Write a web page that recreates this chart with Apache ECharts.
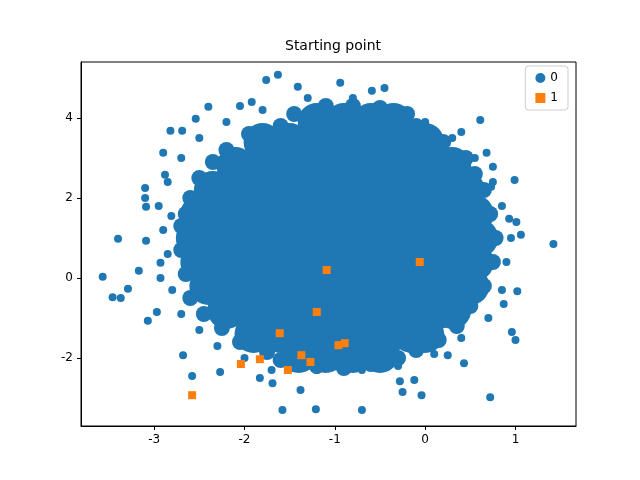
<!DOCTYPE html><html><head><meta charset="utf-8"><script src="https://cdn.jsdelivr.net/npm/echarts@6/dist/echarts.min.js"></script></head><body style="margin:0"><div id="c" style="width:640px;height:480px"></div><script>
const coreRows = [
 [3.9, [-1.2,-0.9,-0.6,-0.35]],
 [3.4, [-1.8,-1.5,-1.2,-0.9,-0.6,-0.3,0]],
 [2.8, [-2.1,-1.8,-1.5,-1.2,-0.9,-0.6,-0.3,0,0.3]],
 [2.2, [-2.35,-2.05,-1.75,-1.45,-1.15,-0.85,-0.55,-0.25,0.05,0.3,0.45]],
 [1.6, [-2.5,-2.2,-1.9,-1.6,-1.3,-1.0,-0.7,-0.4,-0.1,0.2,0.4,0.55]],
 [1.0, [-2.55,-2.25,-1.95,-1.65,-1.35,-1.05,-0.75,-0.45,-0.15,0.15,0.4,0.6]],
 [0.4, [-2.5,-2.2,-1.9,-1.6,-1.3,-1.0,-0.7,-0.4,-0.1,0.2,0.4,0.55]],
 [-0.2,[-2.4,-2.1,-1.8,-1.5,-1.2,-0.9,-0.6,-0.3,0,0.3,0.5]],
 [-0.8,[-2.2,-1.9,-1.6,-1.3,-1.0,-0.7,-0.4,-0.1,0.15,0.3]],
 [-1.4,[-1.9,-1.6,-1.3,-1.0,-0.7,-0.4,-0.15,0]],
 [-1.9,[-1.4,-1.1,-0.8,-0.5]]
];
const edge0 = [[-2.7,1.3],[-2.7,0.7],[-2.65,0.1],[-2.6,-0.5],[-2.45,-0.9],[-2.25,-1.25],[-2.05,-1.6],[-1.75,-1.85],[-1.6,-2.05],[-0.3,-2.0],[-0.1,-1.8],[0.15,-1.55],[0.35,-1.2],[0.5,-0.7],[0.65,-0.2],[0.75,0.4],[0.78,1.0],[0.72,1.6],[0.65,2.2],[0.55,2.6],[0.45,3.0],[0.2,3.4],[-0.1,3.8],[-0.2,4.1],[-0.5,4.25],[-0.8,4.3],[-1.1,4.3],[-1.45,4.1],[-1.6,3.8],[-1.95,3.6],[-2.2,3.2],[-2.35,2.9],[-2.5,2.5],[-2.6,2.0],[-2.65,1.6],[-1.2,-2.2],[-0.9,-2.25],[-0.6,-2.15],[-1.45,-2.15]];
const outer0 = [[-3.57,0.03],[-3.46,-0.48],[-3.37,-0.5],[-3.4,0.98],[-3.29,-0.27],[-3.17,0.18],[-3.1,2.25],[-3.1,2.0],[-3.09,1.78],[-3.09,0.93],[-3.07,-1.07],[-2.97,-0.85],[-2.9,3.13],[-2.82,3.68],[-2.88,2.58],[-2.81,1.55],[-2.93,0.38],[-2.93,0],[-2.68,-1.93],[-2.58,-2.45],[-2.69,3.68],[-2.54,3.98],[-2.4,4.28],[-2.27,-2.35],[-2.05,4.3],[-1.92,4.4],[-1.76,4.95],[-1.63,5.08],[-1.83,-2.5],[-1.69,-2.63],[-1.58,-3.3],[-1.38,-2.8],[-1.21,-3.28],[-1.41,4.78],[-0.94,4.88],[-0.7,-3.3],[-0.59,4.68],[-0.45,4.75],[-0.28,-2.58],[-0.25,-2.85],[-0.12,-2.55],[0.4,3.65],[0.61,3.95],[0.68,3.13],[0.75,2.78],[0.73,2.28],[0.99,2.45],[0.93,1.48],[1.01,1.4],[1.06,1.08],[1.42,0.85],[1.02,-0.33],[0.87,-0.65],[0.96,-1.35],[1.0,-1.55],[0.72,-2.98],[0.43,-2.13],[0.25,-1.93],[-0.04,-2.93],[0,-1.75],
[-2.9,1.2],[-2.85,0.6],[-2.8,-0.3],[-2.7,-0.9],[-2.5,-1.3],[-2.3,-1.7],[-2.0,-2.0],[-1.7,-2.3],[-1.2,-2.3],[-0.7,-2.3],[-0.3,-2.2],[0.1,-1.9],[0.4,-1.5],[0.7,-1.0],[0.85,-0.3],[0.9,0.4],[0.95,1.0],[0.85,1.8],[0.75,2.4],[0.55,3.0],[0.3,3.5],[0,3.9],[-0.3,4.2],[-0.8,4.5],[-1.3,4.5],[-1.8,4.2],[-2.2,3.9],[-2.5,3.5],[-2.7,3.0],[-2.85,2.4],[-2.95,1.8]];
const series1 = [[-1.09,0.2],[-0.06,0.4],[-1.2,-0.85],[-1.61,-1.38],[-1.83,-2.03],[-1.52,-2.3],[-1.37,-1.93],[-1.27,-2.1],[-0.96,-1.68],[-0.89,-1.63],[-2.04,-2.15],[-2.58,-2.93]];
const xTicks=[-3,-2,-1,0,1], yTicks=[-2,0,2,4];
const core=[]; coreRows.forEach(r=>r[1].forEach(x=>core.push([x,r[0]])));
const ax=(min,max,t)=>({type:'value',min,max,splitLine:{show:false},axisLine:{onZero:false,lineStyle:{color:'#000'}},
 axisTick:{customValues:t,length:4,inside:false,lineStyle:{color:'#000'}},axisLabel:{customValues:t,color:'#000',fontSize:12,fontFamily:'DejaVu Sans'}});
const blue={color:'#1f77b4',opacity:1};
const c=echarts.init(document.getElementById('c'));
c.setOption({animation:false,
 title:{text:'Starting point',left:328,textAlign:'center',top:34,textStyle:{fontWeight:'normal',fontSize:14,color:'#000',fontFamily:'DejaVu Sans'}},
 grid:{left:81,right:64,top:62,bottom:54,show:true,borderColor:'#000',borderWidth:1},
 xAxis:ax(-3.81,1.67,xTicks), yAxis:ax(-3.7,5.4,yTicks),
 legend:{data:[{name:'0',icon:'circle'},{name:'1',icon:'rect'}],orient:'vertical',right:72,top:66,itemWidth:10,itemHeight:10,itemGap:8,
  borderColor:'#ccc',borderWidth:1,borderRadius:3,padding:[6,10,6,10],textStyle:{fontSize:12,fontFamily:'DejaVu Sans',color:'#000'}},
 series:[
  {name:'0',type:'scatter',data:core,symbolSize:38,itemStyle:blue},
  {name:'0',type:'scatter',data:edge0,symbolSize:16,itemStyle:blue},
  {name:'0',type:'scatter',data:outer0,symbolSize:8,itemStyle:blue},
  {name:'1',type:'scatter',data:series1,symbol:'rect',symbolSize:8,itemStyle:{color:'#ff7f0e',opacity:1}}
 ]});
</script></body></html>
